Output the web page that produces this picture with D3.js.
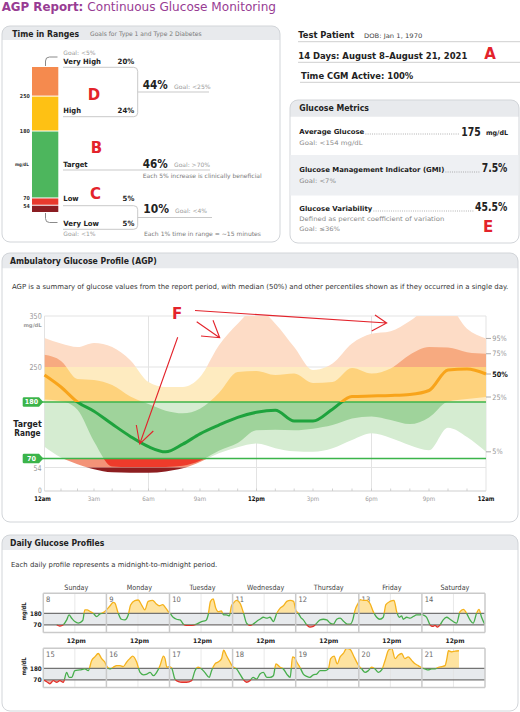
<!DOCTYPE html>
<html>
<head>
<meta charset="utf-8">
<script src="https://cdn.jsdelivr.net/npm/d3@7"></script>
<style>
  body { margin: 0; background: #fff; }
  svg { display: block; }
  text { font-family: 'DejaVu Sans', sans-serif; }
</style>
</head>
<body>
<svg id="chart"></svg>
<script>
// ---------- data ----------
const tirNames = ['Very Low', 'Low', 'Target', 'High', 'Very High']
const tirPct = [5, 5, 46, 24, 20]
const tirCuts = ['54', '70', '180', '250']

const agpHours = [0, 1, 2, 3, 4, 5, 6, 7, 8, 9, 10, 11, 12, 13, 14, 15, 16, 17, 18, 19, 20, 21, 22, 23, 24]
const p95 = [307, 296, 289, 297, 289, 263, 220, 210, 210, 230, 292, 335, 365, 335, 289, 244, 257, 296, 315, 320, 340, 365, 368, 325, 306]
const p75 = [274, 262, 226, 224, 214, 191, 176, 163, 158, 167, 198, 240, 242, 234, 237, 218, 220, 248, 237, 247, 274, 289, 288, 279, 276]
const p50 = [234, 210, 180, 162, 137, 113, 93, 83, 98, 118, 135, 150, 160, 164, 143, 143, 166, 191, 192, 193, 195, 203, 244, 246, 236]
const p25 = [185, 182, 165, 103, 56, 55, 55, 55, 57, 66, 85, 100, 125, 126, 125, 128, 135, 148, 152, 145, 137, 150, 181, 186, 190]
const p5 = [93, 72, 60, 50, 43, 42, 42, 45, 52, 64, 80, 92, 99, 90, 84, 83, 90, 106, 119, 110, 96, 86, 130, 112, 83]
const pctLabels = ['95%', '75%', '50%', '25%', '5%']

const agpTicks = [0, 3, 6, 9, 12, 15, 18, 21, 24]
const agpTickLabels = ['12am', '3am', '6am', '9am', '12pm', '3pm', '6pm', '9pm', '12am']

const dayNames = ['Sunday', 'Monday', 'Tuesday', 'Wednesday', 'Thursday', 'Friday', 'Saturday']
const dayDates = [8, 9, 10, 11, 12, 13, 14, 15, 16, 17, 18, 19, 20, 21]
// [hour of day, mg/dL]
const dailyTraces = [
  [[5.1,70],[6.3,58],[7.6,70],[8.9,117],[9.8,164],[10.8,133],[12,101],[13.3,86],[15,111],[15.8,209],[16.7,209],[17.7,197],[19,180],[20.3,149],[21.5,174],[22.8,186]],
  [[0,209],[1.4,244],[2.6,273],[3.2,267],[4.5,180],[5.7,123],[7,117],[8.3,164],[9.2,250],[10.8,288],[12.1,293],[13.4,250],[14.6,209],[15.9,281],[17.6,290],[18.9,261],[20.1,244],[21.4,253],[22.6,224],[23.9,186]],
  [[0.2,180],[1.4,142],[2.7,123],[4,117],[5.3,76],[6.5,64],[8.4,64],[10.3,76],[12.2,101],[13.8,111],[14.7,164],[15.6,281],[16.6,302],[17.6,224],[18.5,194],[19.7,200],[20.6,164],[21.6,164],[22.8,155],[23.5,238]],
  [[0.3,267],[1.5,290],[2.8,267],[4,194],[5.3,86],[6.6,64],[7.8,76],[9,100],[10.4,123],[11.7,142],[13,133],[14.2,142],[15.5,101],[16.8,180],[18.1,224],[19.3,244],[20.6,281],[21.9,290],[23.2,281]],
  [[0,209],[1,180],[1.9,142],[2.9,117],[4.2,70],[5.4,49],[6.7,55],[8,86],[9.3,117],[10.5,123],[11.8,117],[13.1,86],[14.3,76],[15.6,123],[16.9,133],[18.3,101],[19.6,76],[20.7,76],[21.7,117],[22.6,209],[23.8,267]],
  [[0.5,296],[1.7,290],[3,290],[4.3,261],[5.5,194],[6.8,142],[8,123],[9.3,142],[10.3,253],[11.9,281],[13.4,290],[14.4,194],[15.4,142],[16.3,155],[16.9,123],[18.2,142],[19.5,133],[20.7,149],[22,164],[23.2,164]],
  [[0,170],[0.5,164],[1.8,142],[3.1,70],[4.1,55],[5,64],[5.9,49],[6.9,70],[8.1,117],[9.4,142],[10.7,123],[11.9,101],[13.2,86],[14.5,194],[15.8,214],[17,180],[18.3,117],[19.5,86],[20.8,180],[21.7,214],[22.7,142],[24,70]],
  [[0,70],[1.3,53],[2.5,34],[3.8,62],[5.1,48],[6.3,62],[7.6,48],[8.9,141],[9.8,93],[10.8,93],[12,157],[13.9,164],[15.8,174],[17.1,157],[18.4,247],[19.6,277],[20.9,306],[22.2,262],[23.4,233]],
  [[0,203],[1.4,174],[2.6,189],[3.9,203],[5.2,203],[6.4,195],[7.7,233],[8.9,262],[10,283],[11.5,233],[12.8,141],[14.1,118],[15.4,125],[16.6,141],[17.9,109],[19.1,141],[20.4,203],[21.7,283],[22.3,262],[23,189]],
  [[0,195],[0.8,183],[2.1,76],[3.4,53],[4.7,48],[6.5,48],[8.4,62],[9.7,157],[10.9,189],[12.2,174],[13.4,141],[15.1,93],[16,157],[17.3,218],[18.5,233],[19.8,262],[20.6,335],[21.6,291],[22.8,242]],
  [[0,195],[1.5,174],[2.8,125],[4,76],[5.3,48],[6.6,62],[7.8,93],[9.1,76],[10.4,125],[11.7,141],[13,93],[14.2,93],[15.5,109],[16.5,218],[18.1,189],[19.3,174],[20.6,125],[21.9,93],[22.8,277],[23.6,270]],
  [[0.4,233],[1.6,189],[2.9,125],[4.2,102],[5.4,93],[6.7,118],[8,125],[9.3,157],[11.2,157],[12.4,174],[13.3,262],[14.6,283],[15.8,218],[16.9,277],[18.1,306],[19.4,350],[20.7,341],[21.9,291],[23.2,233]],
  [[0,203],[1.1,174],[2.4,141],[3.6,157],[4.9,189],[6.2,174],[7.5,141],[8.7,164],[10,247],[11.3,335],[12.5,350],[13.8,262],[15,291],[16.3,306],[17.5,262],[18.8,277],[20.1,247],[21.4,218],[22.6,203]],
  [[0,183],[1.2,174],[2.4,164],[3.7,174],[5,174],[6.3,189],[7.6,195],[8.8,203],[9.5,262],[10.1,329],[11.4,320],[12.6,326],[14.1,329]]
]

// ---------- helpers ----------
const svg = d3.select('#chart').attr('width', 520).attr('height', 712)
const SX = 0.86
const red = '#e3232b'

function txt(x, y, s, o = {}) {
  const t = (o.g || svg).append('text').text(s)
    .attr('font-size', o.size || 7)
    .attr('fill', o.color || '#222')
  if (o.bold) t.attr('font-weight', 'bold')
  if (o.anchor) t.attr('text-anchor', o.anchor)
  if (o.family) t.attr('font-family', o.family)
  if (o.w) {
    t.attr('x', x).attr('y', y)
     .attr('textLength', o.w).attr('lengthAdjust', 'spacingAndGlyphs')
  } else {
    t.attr('transform', `translate(${x},${y}) scale(${o.sx || SX},1)`)
  }
  return t
}

function path(d, stroke, width, fill) {
  return svg.append('path').attr('d', d)
    .attr('fill', fill || 'none').attr('stroke', stroke).attr('stroke-width', width)
}

function panel(x, y, w, h, hh) {
  const r = 8
  svg.append('rect').attr('x', x).attr('y', y).attr('width', w).attr('height', h)
    .attr('rx', r).attr('fill', '#fff')
  svg.append('path')
    .attr('d', `M${x},${y + hh}V${y + r}Q${x},${y} ${x + r},${y}H${x + w - r}Q${x + w},${y} ${x + w},${y + r}V${y + hh}Z`)
    .attr('fill', '#e8eaed')
  svg.append('rect').attr('x', x).attr('y', y).attr('width', w).attr('height', h)
    .attr('rx', r).attr('fill', 'none').attr('stroke', '#d2d5d9')
}

// ---------- title ----------
txt(1.7, 11.3, 'AGP Report:', { size: 13, bold: true, color: '#983c93', w: 81.6 })
txt(87.3, 11.3, 'Continuous Glucose Monitoring', { size: 13, color: '#983c93', w: 188.7 })

// ---------- time in ranges ----------
panel(2, 26, 278, 216, 14)
txt(12.3, 37, 'Time in Ranges', { size: 9.2, bold: true, w: 66.7 })
txt(90, 36, 'Goals for Type 1 and Type 2 Diabetes', { size: 6.2, color: '#7a7a7a', w: 111.7 })

const barY = d3.scaleLinear().domain([0, 100]).range([212.5, 67])
const cum = d3.cumsum(tirPct)
const tirColors = ['#8b1d22', '#e8392d', '#4db65d', '#fec114', '#f58a4e']
svg.selectAll('.tir').data(tirPct).enter().append('rect')
  .attr('x', 32).attr('width', 26.3)
  .attr('y', (d, i) => barY(cum[i]) + (i === 4 ? 0 : 0.5))
  .attr('height', (d, i) => barY(cum[i] - d) - barY(cum[i]) - (i === 4 ? 0.5 : 1))
  .attr('fill', (d, i) => tirColors[i])
tirCuts.forEach((c, i) => {
  txt(29.7, barY(cum[i]) + 2.3, c, { size: 5.5, bold: true, anchor: 'end', color: '#333' })
})
txt(28.7, 166, 'mg/dL', { size: 4.6, bold: true, anchor: 'end', color: '#333' })

path('M45.5,66V61Q45.5,57 49.5,57H57.5', '#8a8a8a', 1)
path('M45.5,213V218.5Q45.5,222.5 49.5,222.5H57.5', '#8a8a8a', 1)
path('M63,67.3H133.7Q137.7,67.3 137.7,71.3V112.7Q137.7,116.7 133.7,116.7H63', '#c9c9c9', 1)
path('M137.7,92H209', '#c9c9c9', 1)
path('M63,170H210', '#c9c9c9', 1)
path('M63,205.7H133.7Q137.7,205.7 137.7,209.7V225.3Q137.7,229.3 133.7,229.3H63', '#c9c9c9', 1)
path('M137.7,217.5H212', '#c9c9c9', 1)

txt(63.3, 55, 'Goal: <5%', { size: 6, color: '#9a9a9a', w: 32.3 })
txt(63.3, 64, tirNames[4], { size: 7.3, bold: true, w: 37.7 })
txt(134.3, 64, tirPct[4] + '%', { size: 7.3, bold: true, anchor: 'end', w: 16.7 })
txt(63.3, 113.3, tirNames[3], { size: 7.3, bold: true, w: 17.7 })
txt(134.3, 113.3, tirPct[3] + '%', { size: 7.3, bold: true, anchor: 'end', w: 16.7 })
txt(142.7, 89, (tirPct[3] + tirPct[4]) + '%', { size: 12.5, bold: true, w: 25 })
txt(174, 88.5, 'Goal: <25%', { size: 6, color: '#9a9a9a', w: 36.7 })

txt(63.3, 166.7, tirNames[2], { size: 7.3, bold: true, w: 24.3 })
txt(142.7, 167.7, tirPct[2] + '%', { size: 12.5, bold: true, w: 25 })
txt(174, 167, 'Goal: >70%', { size: 6, color: '#9a9a9a', w: 36 })
txt(142.7, 177.7, 'Each 5% increase is clinically beneficial', { size: 6, color: '#7a7a7a', w: 119 })

txt(63.3, 200.7, tirNames[1], { size: 7.3, bold: true, w: 15.3 })
txt(134.3, 200.7, tirPct[1] + '%', { size: 7.3, bold: true, anchor: 'end', w: 11.7 })
txt(63.3, 225.7, tirNames[0], { size: 7.3, bold: true, w: 35.7 })
txt(134.3, 225.7, tirPct[0] + '%', { size: 7.3, bold: true, anchor: 'end', w: 11.7 })
txt(143.3, 213.3, (tirPct[0] + tirPct[1]) + '%', { size: 12.5, bold: true, w: 25.7 })
txt(175, 213, 'Goal: <4%', { size: 6, color: '#9a9a9a', w: 32 })
txt(63.3, 236, 'Goal: <1%', { size: 6, color: '#9a9a9a', w: 32.3 })
txt(144, 236, 'Each 1% time in range = ~15 minutes', { size: 6, color: '#7a7a7a', w: 117 })

// ---------- patient ----------
txt(298.3, 38.3, 'Test Patient', { size: 9.2, bold: true, w: 56 })
txt(364, 38, 'DOB: Jan 1, 1970', { size: 6.2, color: '#444', w: 58.3 })
path('M298,41.7H520', '#cfcfcf', 1)
txt(298.3, 59, '14 Days: August 8\u2013August 21, 2021', { size: 9.2, bold: true, w: 169 })
path('M298,62.3H520', '#cfcfcf', 1)
txt(301, 79.3, 'Time CGM Active: 100%', { size: 9.2, bold: true, w: 112.3 })
path('M300,82.3H520', '#cfcfcf', 1)

// ---------- glucose metrics ----------
panel(290, 100, 229, 143, 16.7)
svg.append('rect').attr('x', 290.5).attr('y', 155).attr('width', 228).attr('height', 40.5).attr('fill', '#eef0f3')
txt(299.3, 111.3, 'Glucose Metrics', { size: 8.2, bold: true, w: 69.7 })

txt(299.3, 133.7, 'Average Glucose', { size: 6.8, bold: true, w: 65 })
path('M365.5,134H460', '#777', 0.7).attr('stroke-dasharray', '0.8,1.4')
txt(461.3, 135.5, '175', { size: 12, bold: true, w: 19.5 })
txt(486, 135, 'mg/dL', { size: 6.5, bold: true, w: 22 })
txt(299.3, 145, 'Goal: <154 mg/dL', { size: 6.2, color: '#8a8a8a', w: 63.3 })

txt(299.3, 171.7, 'Glucose Management Indicator (GMI)', { size: 6.8, bold: true, w: 145 })
path('M445.5,172H480', '#777', 0.7).attr('stroke-dasharray', '0.8,1.4')
txt(481.7, 172.3, '7.5%', { size: 13, bold: true, w: 25.7 })
txt(299.3, 182.7, 'Goal: <7%', { size: 6.2, color: '#8a8a8a', w: 36.7 })

txt(299.3, 210.7, 'Glucose Variability', { size: 6.8, bold: true, w: 73 })
path('M373.5,211H474', '#777', 0.7).attr('stroke-dasharray', '0.8,1.4')
txt(475, 211.3, '45.5%', { size: 13, bold: true, w: 32.3 })
txt(299.3, 221, 'Defined as percent coefficient of variation', { size: 6.2, color: '#8a8a8a', w: 145 })
txt(299.3, 231.3, 'Goal: \u226436%', { size: 6.2, color: '#8a8a8a', w: 40.7 })

// ---------- AGP ----------
panel(2, 253, 516, 269, 15.3)
txt(10, 264.3, 'Ambulatory Glucose Profile (AGP)', { size: 9.2, bold: true, w: 146.7 })
txt(12, 289.3, 'AGP is a summary of glucose values from the report period, with median (50%) and other percentiles shown as if they occurred in a single day.',
  { size: 7, color: '#333', w: 496.3 })

const ax = d3.scaleLinear().domain(agpTicks).range([44.5, 94, 148.5, 200, 256.5, 313, 371.5, 429, 486])
const ay = d3.scaleLinear().domain([0, 54, 70, 180, 250, 350]).range([491, 467.5, 458.5, 402, 367, 316])
const L = ax(0), R = ax(24)

// grid
const grid = svg.append('g').attr('stroke', '#e3e3e3').attr('stroke-width', 1)
;[350, 250, 54].forEach(v => grid.append('line').attr('x1', L).attr('x2', R).attr('y1', ay(v)).attr('y2', ay(v)))
;[0, 6, 12, 18, 24].forEach(h => grid.append('line').attr('x1', ax(h)).attr('x2', ax(h)).attr('y1', ay(350)).attr('y2', ay(0)))
svg.append('line').attr('x1', L).attr('x2', R).attr('y1', ay(0)).attr('y2', ay(0)).attr('stroke', '#cfcfcf')
d3.range(1, 24).forEach(h => {
  svg.append('line').attr('x1', ax(h)).attr('x2', ax(h)).attr('y1', ay(0) - 2.5).attr('y2', ay(0))
    .attr('stroke', '#c8c8c8').attr('stroke-width', 0.8)
})

const defs = svg.append('defs')
const bands = [
  { id: 'vh', lo: 250, hi: 420, outer: '#fddcc6', inner: '#f7aa80' },
  { id: 'hi', lo: 180, hi: 250, outer: '#feebc0', inner: '#fed27c' },
  { id: 'tr', lo: 70, hi: 180, outer: '#d5ecd1', inner: '#9fd39b' },
  { id: 'lo', lo: 54, hi: 70, outer: '#f39378', inner: '#ee3b2b' },
  { id: 'vl', lo: 0, hi: 54, outer: '#8d1e20', inner: '#8d1e20' }
]
const outerArea = d3.area().x((d, i) => ax(agpHours[i])).y0((d, i) => ay(p5[i])).y1(d => ay(d)).curve(d3.curveMonotoneX)
const innerArea = d3.area().x((d, i) => ax(agpHours[i])).y0((d, i) => ay(p25[i])).y1(d => ay(d)).curve(d3.curveMonotoneX)
bands.forEach(b => {
  const top = Math.max(ay(Math.min(b.hi, 350)), ay(350))
  defs.append('clipPath').attr('id', 'agp-' + b.id).append('rect')
    .attr('x', L).attr('width', R - L).attr('y', top).attr('height', ay(b.lo) - top)
  const g = svg.append('g').attr('clip-path', `url(#agp-${b.id})`)
  g.append('path').attr('d', outerArea(p95)).attr('fill', b.outer)
  g.append('path').attr('d', innerArea(p75)).attr('fill', b.inner)
})

// target lines and flags
;[180, 70].forEach(v => {
  const y = ay(v)
  svg.append('line').attr('x1', 40).attr('x2', R).attr('y1', y).attr('y2', y)
    .attr('stroke', '#3bb44a').attr('stroke-width', 1.5)
  svg.append('path')
    .attr('d', `M24,${y - 4.7}H39L43.3,${y}L39,${y + 4.7}H24Q22.7,${y + 4.7} 22.7,${y + 3.4}V${y - 3.4}Q22.7,${y - 4.7} 24,${y - 4.7}Z`)
    .attr('fill', '#3bb44a')
  txt(31.5, y + 2.4, String(v), { size: 6.8, bold: true, color: '#fff', anchor: 'middle', w: v === 180 ? 13.3 : 9 })
})

// median
defs.append('clipPath').attr('id', 'med-hi').append('rect').attr('x', L - 2).attr('width', R - L + 4).attr('y', 310).attr('height', ay(180) - 310)
defs.append('clipPath').attr('id', 'med-lo').append('rect').attr('x', L - 2).attr('width', R - L + 4).attr('y', ay(180)).attr('height', ay(0) - ay(180))
const medLine = d3.line().x((d, i) => ax(agpHours[i])).y(d => ay(d)).curve(d3.curveMonotoneX)
svg.append('path').attr('d', medLine(p50)).attr('clip-path', 'url(#med-hi)')
  .attr('fill', 'none').attr('stroke', '#f8a41b').attr('stroke-width', 3)
svg.append('path').attr('d', medLine(p50)).attr('clip-path', 'url(#med-lo)')
  .attr('fill', 'none').attr('stroke', '#1ea33d').attr('stroke-width', 3)

// axes text
;[350, 250, 54, 0].forEach(v => {
  txt(41.7, ay(v) + (v === 0 ? 1.6 : 3), String(v), { size: v === 0 ? 7.4 : 8, color: '#999', anchor: 'end', sx: 0.8 })
})
txt(41.7, 326.7, 'mg/dL', { size: 5, bold: true, color: '#999', anchor: 'end', w: 18.3 })
txt(27.5, 426.7, 'Target', { size: 8.5, bold: true, anchor: 'middle', w: 28.3 })
txt(27.5, 436, 'Range', { size: 8.5, bold: true, anchor: 'middle', w: 26.3 })

agpTicks.forEach((h, i) => {
  const strong = i % 4 === 0
  const x = i === 0 ? ax(h) - 2 : ax(h)
  txt(x, 500.5, agpTickLabels[i], {
    size: strong ? 6.4 : 6.2, bold: strong, color: strong ? '#111' : '#9a9a9a',
    anchor: 'middle', sx: strong ? 0.84 : 0.9
  })
})
const endVals = [p95, p75, p50, p25, p5].map(s => s[s.length - 1])
pctLabels.forEach((lab, i) => {
  const y = ay(endVals[i])
  svg.append('line').attr('x1', R).attr('x2', R + 5).attr('y1', y).attr('y2', y).attr('stroke', '#aaa')
  txt(R + 6.3, y + 2.6, lab, { size: 7.4, bold: i === 2, color: i === 2 ? '#111' : '#999', sx: 0.88 })
})

// annotations
path('M195,310.5L386.7,323M375,315L386.7,323L371.7,331', red, 1.1)
path('M196.7,321.7L219.7,337.7M213,320.3L219.7,337.7L201,336', red, 1.1)
path('M177.7,337.3L139.7,444M136.3,425L139.7,444L153.3,431', red, 1.1)

// ---------- daily profiles ----------
panel(2, 535, 516, 176, 15)
txt(10, 546, 'Daily Glucose Profiles', { size: 9.2, bold: true, w: 94.3 })
txt(11, 566.7, 'Each daily profile represents a midnight-to-midnight period.', { size: 7, color: '#333', w: 206.3 })

const wx = d3.scaleLinear().domain([0, 168]).range([43.3, 485])
dayNames.forEach((n, i) => {
  txt(wx(i * 24 + 12) + 1.5, 590, n, { size: 7.3, color: '#444', anchor: 'middle', sx: 0.88 })
  txt(wx(i * 24 + 12) + 1.5, 642.7, '12pm', { size: 6.3, bold: true, anchor: 'middle', w: 19 })
})

;[593.3, 648.3].forEach((T, r) => {
  const B = T + 39.3
  const yR = d3.scaleLinear().domain([0, 70, 180, 350]).range([B, T + 31.5, T + 20, T])
  const g = svg.append('g')
  g.append('rect').attr('x', wx(0)).attr('width', wx(168) - wx(0)).attr('y', T).attr('height', B - T).attr('fill', '#fff')
  g.append('rect').attr('x', wx(0)).attr('width', wx(168) - wx(0)).attr('y', yR(180)).attr('height', yR(70) - yR(180)).attr('fill', '#e7eaed')
  for (let c = 0; c < 7; c++) {
    g.append('line').attr('x1', wx(c * 24 + 12)).attr('x2', wx(c * 24 + 12)).attr('y1', T).attr('y2', B)
      .attr('stroke', '#e2e2e2').attr('stroke-width', 0.8)
    txt(wx(c * 24) + 2.8, T + 9, String(dayDates[r * 7 + c]), { size: 7.5, color: '#666', g, sx: 0.9 })
  }

  const pts = []
  for (let c = 0; c < 7; c++) {
    dailyTraces[r * 7 + c].forEach(([h, v]) => {
      const t = c * 24 + h
      if (!pts.length || t > pts[pts.length - 1][0]) pts.push([t, v])
    })
  }
  const id = 'd' + r
  const clips = {
    hi: [T, yR(180)],
    mid: [yR(180), yR(70)],
    lo: [yR(70), B]
  }
  Object.entries(clips).forEach(([k, [a, b]]) => {
    defs.append('clipPath').attr('id', `${id}-${k}`).append('rect')
      .attr('x', wx(0)).attr('width', wx(168) - wx(0)).attr('y', a).attr('height', b - a)
  })
  const line = d3.line().x(d => wx(d[0])).y(d => yR(d[1])).curve(d3.curveMonotoneX)
  const areaHi = d3.area().x(d => wx(d[0])).y0(yR(180)).y1(d => yR(d[1])).curve(d3.curveMonotoneX)
  const areaLo = d3.area().x(d => wx(d[0])).y0(yR(70)).y1(d => yR(d[1])).curve(d3.curveMonotoneX)
  g.append('path').attr('d', areaHi(pts)).attr('fill', '#fee3a0').attr('clip-path', `url(#${id}-hi)`)
  g.append('path').attr('d', areaLo(pts)).attr('fill', '#f6b0a7').attr('clip-path', `url(#${id}-lo)`)

  ;[180, 70].forEach(v => {
    g.append('line').attr('x1', wx(0)).attr('x2', wx(168)).attr('y1', yR(v)).attr('y2', yR(v))
      .attr('stroke', '#737373').attr('stroke-width', 1.3)
  })
  const lineColors = { hi: '#f5b21c', mid: '#47ae4c', lo: '#e2322b' }
  Object.keys(clips).forEach(k => {
    g.append('path').attr('d', line(pts)).attr('fill', 'none')
      .attr('stroke', lineColors[k]).attr('stroke-width', 1.3)
      .attr('clip-path', `url(#${id}-${k})`)
  })

  for (let c = 0; c <= 7; c++) {
    g.append('line').attr('x1', wx(c * 24)).attr('x2', wx(c * 24)).attr('y1', T).attr('y2', B)
      .attr('stroke', '#cacaca').attr('stroke-width', 1.5)
  }
  g.append('line').attr('x1', wx(0)).attr('x2', wx(168)).attr('y1', T).attr('y2', T).attr('stroke', '#cacaca').attr('stroke-width', 1.5)
  g.append('line').attr('x1', wx(0)).attr('x2', wx(168)).attr('y1', B).attr('y2', B).attr('stroke', '#cacaca').attr('stroke-width', 1.5)

  txt(41.7, yR(180) + 2.7, '180', { size: 6.3, bold: true, anchor: 'end', w: 11.7 })
  txt(41.7, yR(70) + 2.5, '70', { size: 6.3, bold: true, anchor: 'end', w: 8.4 })
  const my = (T + B) / 2 - 1.5
  svg.append('text').text('mg/dL')
    .attr('transform', `translate(25.8,${my}) rotate(-90)`)
    .attr('text-anchor', 'middle').attr('font-size', 6).attr('font-weight', 'bold').attr('fill', '#222')
    .attr('textLength', 18).attr('lengthAdjust', 'spacingAndGlyphs')
})

// ---------- red markers ----------
const marks = [['A', 490, 58.5], ['E', 488, 232], ['D', 94, 100], ['B', 96.5, 152.7], ['C', 95.5, 199], ['F', 177, 319.3]]
marks.forEach(([s, x, y]) => {
  svg.append('text').text(s).attr('x', x).attr('y', y)
    .attr('text-anchor', 'middle').attr('font-family', "'Liberation Sans', Arial, sans-serif")
    .attr('font-weight', 'bold').attr('font-size', 15).attr('fill', red)
})
</script>
</body>
</html>
